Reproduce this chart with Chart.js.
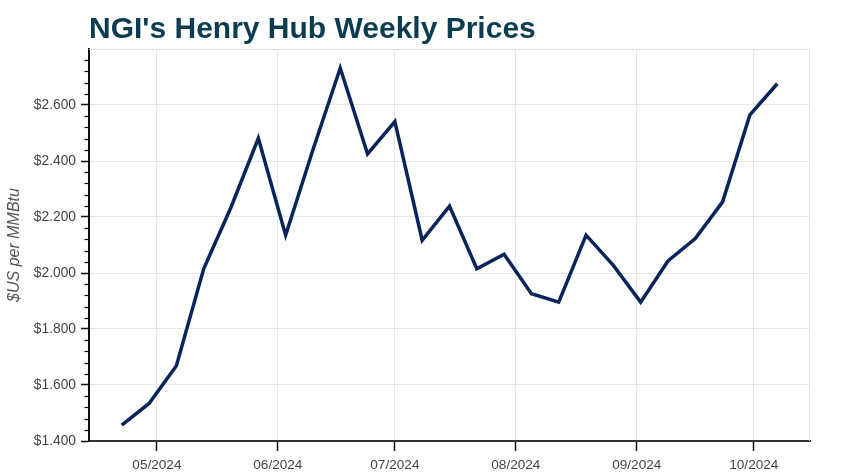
<!DOCTYPE html>
<html>
<head>
<meta charset="utf-8">
<script src="https://cdn.jsdelivr.net/npm/chart.js@4.4.1/dist/chart.umd.min.js"></script>
<style>
html,body{margin:0;padding:0;background:#fff;}
#wrap{width:847px;height:475px;position:relative;}
</style>
</head>
<body>
<div id="wrap"><canvas id="c" width="847" height="475"></canvas></div>
<script>
// ---- data ----
const weekDates = ['2024-04-22','2024-04-29','2024-05-06','2024-05-13','2024-05-20','2024-05-27',
  '2024-06-03','2024-06-10','2024-06-17','2024-06-24','2024-07-01','2024-07-08','2024-07-15',
  '2024-07-22','2024-07-29','2024-08-05','2024-08-12','2024-08-19','2024-08-26','2024-09-02',
  '2024-09-09','2024-09-16','2024-09-23','2024-09-30','2024-10-07'];
const prices = [1.457,1.534,1.669,2.015,2.235,2.481,
  2.135,2.440,2.732,2.425,2.541,2.117,2.239,
  2.015,2.067,1.926,1.896,2.135,2.027,1.896,
  2.043,2.123,2.254,2.565,2.676];
const monthTickDates = ['2024-05-01','2024-06-01','2024-07-01','2024-08-01','2024-09-01','2024-10-01'];
const monthTickLabels = ['05/2024','06/2024','07/2024','08/2024','09/2024','10/2024'];
const yTickValues = [1.4,1.6,1.8,2.0,2.2,2.4,2.6];
const yMin = 1.4, yMax = 2.8, yMinorStep = 0.04;
const titleText = "NGI's Henry Hub Weekly Prices";
const yAxisTitle = '$US per MMBtu';

// ---- helpers ----
const DAY = 86400000;
const base = Date.UTC(2024,0,1);
function toDay(s){ const p = s.split('-').map(Number); return (Date.UTC(p[0],p[1]-1,p[2]) - base)/DAY; }
const xs = weekDates.map(toDay);
const monthTickValues = monthTickDates.map(toDay);
const span = xs[xs.length-1] - xs[0];
const xMin = xs[0] - 0.05*span, xMax = xs[xs.length-1] + 0.05*span;
const points = xs.map((x,i)=>({x:x, y:prices[i]}));

const FONT = '"Liberation Sans", Arial, Helvetica, sans-serif';

const framePlugin = {
  id:'frame',
  beforeDatasetsDraw(chart){
    const a = chart.chartArea, ctx = chart.ctx;
    ctx.save();
    ctx.strokeStyle = '#e3e3e3'; ctx.lineWidth = 1;
    ctx.beginPath();
    ctx.moveTo(a.left, a.top+0.5); ctx.lineTo(a.right-0.5, a.top+0.5); ctx.lineTo(a.right-0.5, a.bottom);
    ctx.stroke();
    ctx.restore();
  },
  afterDraw(chart){
    const s = chart.scales.y, ctx = chart.ctx;
    ctx.save();
    ctx.strokeStyle = '#000'; ctx.lineWidth = 1.2;
    const n = Math.round((yMax - yMin)/yMinorStep);
    for(let i=0;i<=n;i++){
      if(i % 5 === 0) continue;
      const v = yMin + i*yMinorStep;
      const py = Math.round(s.getPixelForValue(v)) + 0.5;
      ctx.beginPath(); ctx.moveTo(s.right-4.5, py); ctx.lineTo(s.right, py); ctx.stroke();
    }
    ctx.restore();
  }
};

new Chart(document.getElementById('c'), {
  type:'line',
  data:{ datasets:[{ data: points, borderColor:'#08245a', borderWidth:3.5, pointRadius:0, tension:0, fill:false, borderJoinStyle:'miter' }] },
  options:{
    responsive:false, animation:false,
    layout:{ padding:{ left:0, right:37, top:0, bottom:0 } },
    plugins:{
      legend:{display:false}, tooltip:{enabled:false},
      title:{ display:true, text:titleText, align:'start', fullSize:false, color:'#0c3c50',
        font:{ family:FONT, size:30, weight:'bold', lineHeight:1.2 }, padding:{ top:12, bottom:1 } }
    },
    scales:{
      x:{
        type:'linear', min:xMin, max:xMax,
        afterBuildTicks: s => { s.ticks = monthTickValues.map(v=>({value:v})); },
        ticks:{ autoSkip:false, maxRotation:0, color:'#444', padding:6,
          font:{ family:FONT, size:13.6 },
          callback: v => { const i = monthTickValues.indexOf(v); return i>=0 ? monthTickLabels[i] : ''; } },
        grid:{ color:'#e6e6e6', lineWidth:1, tickColor:'#111', tickLength:10, tickWidth:1.5 },
        border:{ color:'#333', width:2 },
        afterFit: s => { s.height = 34; }
      },
      y:{
        min:yMin, max:yMax,
        afterBuildTicks: s => { s.ticks = yTickValues.map(v=>({value:v})); },
        ticks:{ color:'#444', padding:5, font:{ family:FONT, size:13.8 },
          callback: v => '$' + Number(v).toFixed(3) },
        grid:{ color:'#e6e6e6', lineWidth:1, tickColor:'#111', tickLength:8, tickWidth:1.5 },
        border:{ color:'#111', width:2 },
        title:{ display:true, text:yAxisTitle, color:'#555', font:{ family:FONT, size:16, style:'italic' }, padding:{top:5,bottom:0} },
        afterFit: s => { s.width = 89; }
      }
    }
  },
  plugins:[framePlugin]
});
</script>
</body>
</html>
